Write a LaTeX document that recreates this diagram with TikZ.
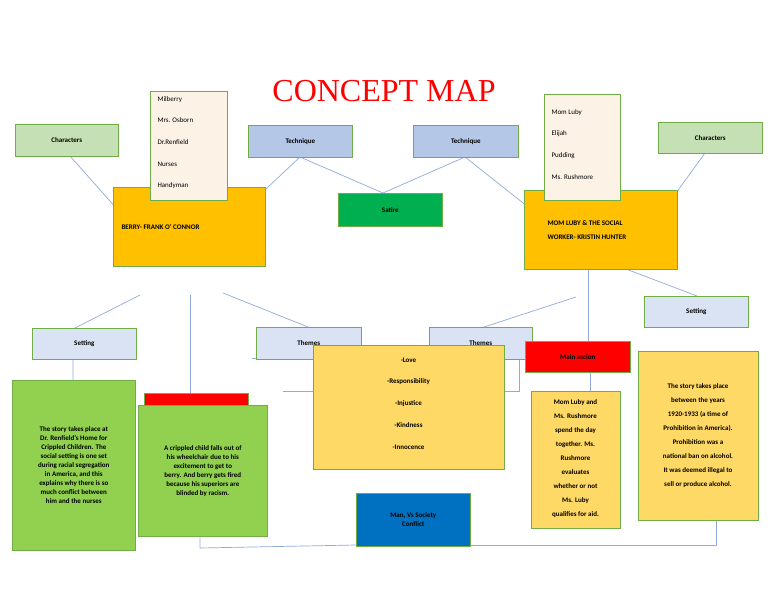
\documentclass[tikz,border=0pt]{standalone}
\usepackage{fontspec}
\setmainfont{Carlito}
\newfontfamily\titlefont{Liberation Serif}
\definecolor{lg}{HTML}{C5E0B4}
\definecolor{lb}{HTML}{B4C7E7}
\definecolor{vlb}{HTML}{DAE3F3}
\definecolor{bord}{HTML}{70AD47}
\definecolor{og}{HTML}{FFC000}
\definecolor{gg}{HTML}{92D050}
\definecolor{yy}{HTML}{FFD966}
\definecolor{bb}{HTML}{0070C0}
\definecolor{sat}{HTML}{00B050}
\definecolor{ln}{HTML}{8FAADC}
\definecolor{cream}{HTML}{FDF2E6}
\tikzset{
 bx/.style={draw=bord, line width=0.6pt, font=\bfseries\fontsize{7}{9}\selectfont},
 cn/.style={draw=ln, line width=0.7pt},
}
\newcommand{\bxat}[6]{\node[bx,fill=#5,minimum width=#3pt,minimum height=#4pt,anchor=north west,inner sep=0pt] (#1) at #2 {}; \node[font=\bfseries\fontsize{7}{9}\selectfont,align=center] at (#1.center) {#6};}
\begin{document}
\begin{tikzpicture}[x=1pt,y=-1pt]
\useasboundingbox (0,0) rectangle (768,594);
% connectors (behind)
\coordinate (c1) at (70,156); \coordinate (c1e) at (125,218);
\coordinate (c2) at (705,153); \coordinate (c2e) at (655,222);
\draw[cn] (c1) -- (c1e); \draw[cn] (c2) -- (c2e);
\draw[cn] (300,157) -- (232,221);
\draw[cn] (300,157) -- (383,193) -- (465,157) -- (542,218);
\draw[cn] (140,295) -- (73,329) -- (73,380);
\draw[cn] (190,295) -- (190,405);
\draw[cn] (223,293) -- (308,327);
\draw[cn] (588,269) -- (588,341);
\draw[cn] (576,297) -- (484,327);
\draw[cn] (618,266) -- (697,296);
\draw[cn] (590,372) -- (590,391);
\draw[cn] (252,358) -- (320,358);
\draw[cn] (283,391) -- (313,391);
\draw[cn] (519,327) -- (519,391) -- (504,391);
\draw[cn] (200,536) -- (200,548) -- (356,545);
\draw[cn] (470,545) -- (716,545) -- (716,520);
% title
\node[text=red,font=\titlefont\fontsize{32}{36}\selectfont] (title) at (384,91) {CONCEPT MAP};
% boxes
\bxat{ch1}{(15,124)}{103}{32}{lg}{Characters}
\bxat{ch2}{(658,122)}{104}{31}{lg}{Characters}
\bxat{t1}{(248,125)}{104}{32}{lb}{Technique}
\bxat{t2}{(413,125)}{105}{32}{lb}{Technique}
\bxat{sat}{(338,193)}{104}{33}{sat}{Satire}
\node[bx,fill=og,minimum width=152pt,minimum height=79pt,anchor=north west,inner sep=0pt] (berry) at (113,187) {};
\node[font=\bfseries\fontsize{7}{9}\selectfont,anchor=west] at (118,227) {BERRY- FRANK O' CONNOR};
\node[bx,fill=og,minimum width=153pt,minimum height=79pt,anchor=north west,inner sep=0pt] (mom) at (524,190) {};
\node[font=\bfseries\fontsize{7}{14}\selectfont,align=left,anchor=west] at (544,230) {MOM LUBY \& THE SOCIAL\\WORKER- KRISTIN HUNTER};
\node[draw=bord,fill=cream,minimum width=77pt,minimum height=109pt,anchor=north west,inner sep=0pt] (l1) at (150,91) {};
\node[font=\fontsize{7}{21.6}\selectfont,align=left,anchor=north west] at (154,93) {Milberry\\Mrs. Osborn\\Dr.Renfield\\Nurses\\Handyman};
\node[draw=bord,fill=cream,minimum width=76pt,minimum height=106pt,anchor=north west,inner sep=0pt] (l2) at (544,94) {};
\node[font=\fontsize{7}{21.6}\selectfont,align=left,anchor=north west] at (548,106) {Mom Luby\\Elijah\\Pudding\\Ms. Rushmore};
\bxat{s1}{(32,328)}{104}{31}{vlb}{Setting}
\bxat{th1}{(256,327)}{105}{32}{vlb}{Themes}
\bxat{th2}{(429,327)}{103}{32}{vlb}{Themes}
\bxat{s2}{(644,296)}{104}{31}{vlb}{Setting}
\bxat{g1}{(12,380)}{123}{170}{gg}{The story takes place at\\Dr. Renfield's Home for\\Crippled Children. The\\social setting is one set\\during racial segregation\\in America, and this\\explains why there is so\\much conflict between\\him and the nurses}
\node[bx,fill=red,minimum width=104pt,minimum height=12pt,anchor=north west,inner sep=0pt] (r1) at (144,393) {};
\bxat{g2}{(138,405)}{129}{131}{gg}{A crippled child falls out of\\his wheelchair due to his\\excitement to get to\\berry. And berry gets fired\\because his superiors are\\blinded by racism.}
\node[bx,fill=yy,minimum width=191pt,minimum height=124pt,anchor=north west,inner sep=0pt] (yl) at (313,345) {};
\node[font=\bfseries\fontsize{7}{21.8}\selectfont,align=center,anchor=north] at (408.5,354) {-Love\\-Responsibility\\-Injustice\\-Kindness\\-Innocence};
\bxat{man}{(356,493)}{114}{53}{bb}{Man, Vs Society\\Conflict}
\bxat{ma}{(525,341)}{105}{31}{red}{Main accion}
\node[bx,fill=yy,minimum width=89pt,minimum height=137pt,anchor=north west,inner sep=0pt] (y2) at (531,391) {};
\node[font=\bfseries\fontsize{7}{14}\selectfont,align=center] at (575.5,459) {Mom Luby and\\Ms. Rushmore\\spend the day\\together. Ms.\\Rushmore\\evaluates\\whether or not\\Ms. Luby\\qualifies for aid.};
\node[bx,fill=yy,minimum width=120pt,minimum height=169pt,anchor=north west,inner sep=0pt] (y3) at (638,351) {};
\node[font=\bfseries\fontsize{7}{14}\selectfont,align=center,anchor=north] at (698,380) {The story takes place\\between the years\\1920-1933 (a time of\\Prohibition in America).\\Prohibition was a\\national ban on alcohol.\\It was deemed illegal to\\sell or produce alcohol.};
\end{tikzpicture}
\end{document}
